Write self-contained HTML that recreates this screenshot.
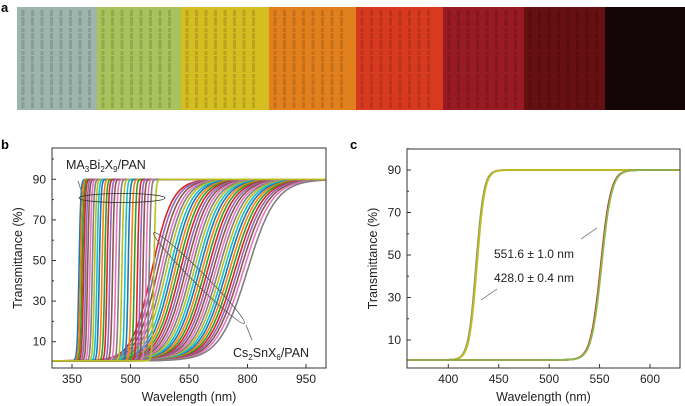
<!DOCTYPE html>
<html><head><meta charset="utf-8">
<style>
body{margin:0;background:#fff;width:685px;height:406px;overflow:hidden;font-family:"Liberation Sans",Arial,sans-serif}
svg{position:absolute;left:0;top:0}
text{font-family:"Liberation Sans",Arial,sans-serif}
</style></head><body>
<svg id="s" width="685" height="406">
  <g id="pa"></g>
  <text x="1" y="12" font-size="13" font-weight="bold">a</text>
  <text x="1" y="149" font-size="13" font-weight="bold">b</text>
  <text x="350" y="149" font-size="13" font-weight="bold">c</text>
  <g id="pb"></g>
  <g id="pc"></g>
</svg>
<script>
// ---- data ----
const stripColors=["#9db5ad","#a9c35c","#d6bd22","#e2801e","#d83a1f","#981a22","#661011","#140606"];
const biMid=[368,372,376,380,385,390,396,402,408,414,420,427,434,440,447,454,462,470,478,486,494,502,510,518,525,532,540,548,560];
const snMid=[555,562,570,578,585,592,600,607,614,621,628,635,642,649,656,663,670,677,684,691,698,705,712,719,726,733,740,747,754,761,768,775,782,790,800];
const cMid=[428.0,551.6];
const bxTicks=[350,500,650,800,950];
const cxTicks=[400,450,500,550,600];
const yTicks=[10,30,50,70,90];
const palette=["#1f77b4","#ff7f0e","#2ca02c","#d62728","#9467bd","#8c564b","#e377c2","#7f7f7f","#bcbd22","#17becf"];

const NS="http://www.w3.org/2000/svg";
function el(p,t,a){const e=document.createElementNS(NS,t);for(const k in a)e.setAttribute(k,a[k]);p.appendChild(e);return e;}

// panel a
const pa=document.getElementById('pa');
const bounds=[17,97,181,269,356,443,524,605,685];
stripColors.forEach((c,i)=>{
  const r=el(pa,'rect',{x:bounds[i],y:7,width:bounds[i+1]-bounds[i],height:103,fill:c});
  
  
  for(let k=0;k<8;k++){
    const l=el(pa,'line',{x1:bounds[i]+6+k*9.5,y1:10,x2:bounds[i]+6+k*9.5,y2:108,stroke:"rgba(0,0,0,0.13)","stroke-width":3,"stroke-dasharray":"6 1 9 2 4 1"});
    
    
  }
});

function sig(w,m,s){return 0.6+89.4/(1+Math.exp(-(w-m)/s));}

function chart(g,L,R,T,B,x0,x1,xt,x0v,x0px,xs,y90,ys,series){
  const X=w=>x0px+(w-x0v)*xs, Y=v=>y90+(90-v)*ys;
  const cp=el(document.getElementById('s'),'clipPath',{id:g.id+'c'});
  el(cp,'rect',{x:L,y:T,width:R-L,height:B-T});
  const cg=el(g,'g',{'clip-path':'url(#'+g.id+'c)'});
  series.forEach((sr,i)=>{
    let d='';
    for(let w=x0;w<=x1;w+=1.5){d+=(d?'L':'M')+X(w).toFixed(1)+','+Y(sig(w,sr.m,sr.s)).toFixed(1);}
    const p=el(cg,'path',{d:d,fill:'none',stroke:sr.c,'stroke-width':sr.w||1.6});
    
    
  });
  const f=el(g,'rect',{x:L,y:T,width:R-L,height:B-T,fill:'none',stroke:'#333','stroke-width':1});
  
  
  xt.forEach(v=>{
    el(g,'line',{x1:X(v),x2:X(v),y1:B,y2:B-4,stroke:'#333'});
    const t=el(g,'text',{x:X(v),y:B+15,'font-size':12,'text-anchor':'middle',fill:'#222'});
    t.textContent=v;
    
    
  });
  yTicks.forEach(v=>{
    el(g,'line',{x1:L,x2:L+4,y1:Y(v),y2:Y(v),stroke:'#333'});
    el(g,'line',{x1:L,x2:L+2,y1:Y(v+10),y2:Y(v+10),stroke:'#333'});
    const t=el(g,'text',{x:L-6,y:Y(v)+4,'font-size':12,'text-anchor':'end',fill:'#222'});
    t.textContent=v;
    
    
  });
  const xl=el(g,'text',{x:(L+R)/2,y:B+33,'font-size':12.5,'text-anchor':'middle',fill:'#222'});
  xl.textContent='Wavelength (nm)';
  
  
  const yl=el(g,'text',{x:0,y:0,'font-size':12.5,'text-anchor':'middle',fill:'#222',transform:`translate(${L-30},${(T+B)/2}) rotate(-90)`});
  yl.textContent='Transmittance (%)';
  
  
  return {X,Y};
}

// panel b
const pb=document.getElementById('pb');
const sb=[];
snMid.forEach((m,i)=>sb.push({m:m,s:26+i*0.3,c:palette[(i+3)%10]}));
biMid.forEach((m,i)=>sb.push({m:m,s:2.2,c:palette[i%10]}));
chart(pb,52,326,148,368,290,1010,bxTicks,350,72,0.39,179.3,2.03,sb);
el(pb,'ellipse',{cx:122,cy:198,rx:43,ry:4.5,fill:'none',stroke:'#333','stroke-width':0.8});
el(pb,'ellipse',{cx:199,cy:278,rx:64,ry:6,fill:'none',stroke:'#555','stroke-width':0.8,transform:'rotate(45 199 278)'});
el(pb,'line',{x1:78,y1:181,x2:82,y2:193,stroke:'#777'});
el(pb,'line',{x1:246,y1:325,x2:252,y2:340,stroke:'#777'});
const lb1=el(pb,'text',{x:66,y:169,'font-size':12.5,fill:'#222'});
lb1.innerHTML='MA<tspan font-size="8" dy="3">3</tspan><tspan dy="-3">Bi</tspan><tspan font-size="8" dy="3">2</tspan><tspan dy="-3">X</tspan><tspan font-size="8" dy="3">9</tspan><tspan dy="-3">/PAN</tspan>';


const lb2=el(pb,'text',{x:233,y:357,'font-size':12.5,fill:'#222'});
lb2.innerHTML='Cs<tspan font-size="8" dy="3">2</tspan><tspan dy="-3">SnX</tspan><tspan font-size="8" dy="3">6</tspan><tspan dy="-3">/PAN</tspan>';



// panel c
const pc=document.getElementById('pc');
const sc=[];
const cc=[["#17a0b4","#ff7f0e","#bcbd22"],["#d62728","#8c564b","#8db84a"]];
cMid.forEach((m,j)=>cc[j].forEach((c,k)=>sc.push({m:m+(k-1)*0.4,s:j?5:3.8,c:c,w:1.8})));
chart(pc,407,680,149,368,350,640,cxTicks,400,448.3,1.0085,170,2.125,sc);
el(pc,'line',{x1:597,y1:228,x2:581,y2:239,stroke:'#888'});
el(pc,'line',{x1:481,y1:300,x2:497,y2:289,stroke:'#888'});
const t1=el(pc,'text',{x:494,y:258,'font-size':12,fill:'#222'});
t1.textContent='551.6 ± 1.0 nm';


const t2=el(pc,'text',{x:494,y:282,'font-size':12,fill:'#222'});
t2.textContent='428.0 ± 0.4 nm';


</script>
</body></html>
